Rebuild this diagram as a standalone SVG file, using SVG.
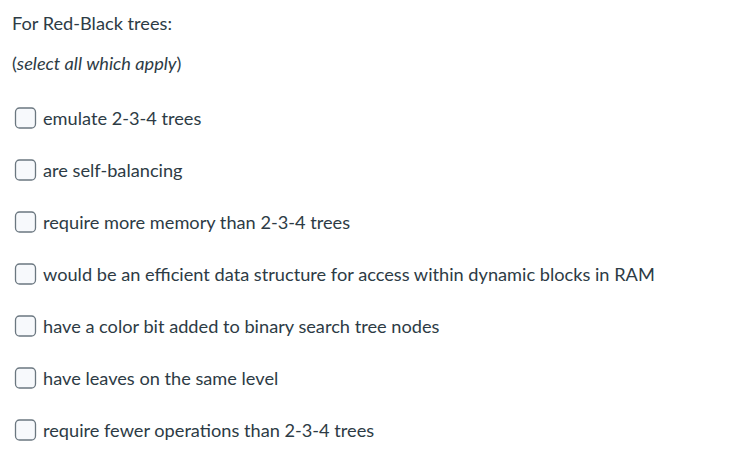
<svg xmlns="http://www.w3.org/2000/svg" width="737" height="456" viewBox="0 0 737 456">
<style>
text{font-family:Lato,"Liberation Sans",sans-serif;font-size:18.2px;fill:#2d3b45}
.cb{fill:#f7f9fc;stroke:#6b7780;stroke-width:1.3}
</style>
<rect width="737" height="456" fill="#fff"/>
<text x="12" y="30">For Red-Black trees:</text>
<text x="12" y="70"><tspan>(</tspan><tspan font-style="italic">select all which apply</tspan><tspan>)</tspan></text>
<g id="o1"><rect class="cb" x="15.5" y="108" width="20" height="20" rx="4"/><text x="43" y="125">emulate 2-3-4 trees</text></g>
<g id="o2"><rect class="cb" x="15.5" y="160" width="20" height="20" rx="4"/><text x="43" y="177">are self-balancing</text></g>
<g id="o3"><rect class="cb" x="15.5" y="212" width="20" height="20" rx="4"/><text x="43" y="229">require more memory than 2-3-4 trees</text></g>
<g id="o4"><rect class="cb" x="15.5" y="264" width="20" height="20" rx="4"/><text x="43" y="281">would be an efficient data structure for access within dynamic blocks in RAM</text></g>
<g id="o5"><rect class="cb" x="15.5" y="316" width="20" height="20" rx="4"/><text x="43" y="333">have a color bit added to binary search tree nodes</text></g>
<g id="o6"><rect class="cb" x="15.5" y="368" width="20" height="20" rx="4"/><text x="43" y="385">have leaves on the same level</text></g>
<g id="o7"><rect class="cb" x="15.5" y="420" width="20" height="20" rx="4"/><text x="43" y="437">require fewer operations than 2-3-4 trees</text></g>
</svg>
